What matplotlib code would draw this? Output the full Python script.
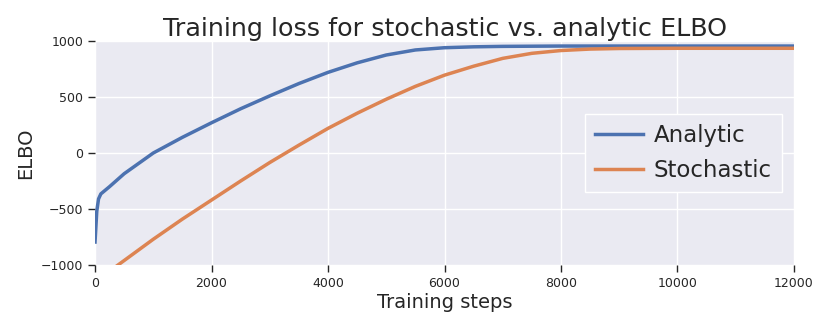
import numpy as np
import matplotlib
matplotlib.use('Agg')
import matplotlib.pyplot as plt

# values
analytic_steps = [0, 30, 60, 100, 250, 500, 1000, 1500, 2000, 2500, 3000, 3500, 4000,
                  4500, 5000, 5500, 6000, 6500, 7000, 8000, 9000, 10000, 11000, 12000]
analytic_elbo = [-795, -520, -410, -365, -300, -185, 0, 140, 270, 395, 510, 620, 720,
                 805, 875, 920, 940, 948, 952, 955, 955, 955, 955, 955]

stochastic_steps = [0, 500, 1000, 1500, 2000, 2500, 3000, 3500, 4000, 4500, 5000, 5500,
                    6000, 6500, 7000, 7500, 8000, 8500, 9000, 10000, 11000, 12000]
stochastic_elbo = [-1150, -960, -770, -590, -420, -250, -85, 70, 220, 355, 480, 595,
                   695, 775, 845, 890, 915, 928, 933, 935, 935, 935]

plt.rcParams['font.family'] = 'DejaVu Sans'
plt.rcParams['text.color'] = '#262626'
plt.rcParams['axes.labelcolor'] = '#262626'
plt.rcParams['xtick.color'] = '#262626'
plt.rcParams['ytick.color'] = '#262626'

fig = plt.figure(figsize=(8.3, 3.32), dpi=100)
ax = fig.add_axes([0.1145, 0.2018, 0.8421, 0.6747])
ax.set_facecolor('#EAEAF2')
for s in ax.spines.values():
    s.set_visible(False)
ax.grid(True, color='white', linewidth=1)
ax.set_axisbelow(True)

ax.plot(analytic_steps, analytic_elbo, color='#4C72B0', linewidth=2.5, label='Analytic')
ax.plot(stochastic_steps, stochastic_elbo, color='#DD8452', linewidth=2.5, label='Stochastic')

ax.set_xlim(0, 12000)
ax.set_ylim(-1000, 1000)
ax.set_xticks(np.arange(0, 12001, 2000))
ax.set_yticks(np.arange(-1000, 1001, 500))
ax.tick_params(labelsize=9, length=5, width=1)

ax.set_title('Training loss for stochastic vs. analytic ELBO', fontsize=18.3, pad=2)
ax.set_xlabel('Training steps', fontsize=14, labelpad=2)
ax.set_ylabel('ELBO', fontsize=14)

leg = ax.legend(loc='center right', bbox_to_anchor=(0.983, 0.5), borderaxespad=0,
                fontsize=16.5, frameon=True, facecolor='#EAEAF2', edgecolor='white',
                framealpha=1, fancybox=False, handlelength=2.1, handletextpad=0.45,
                borderpad=0.45)

fig.savefig('out.png', dpi=100)
